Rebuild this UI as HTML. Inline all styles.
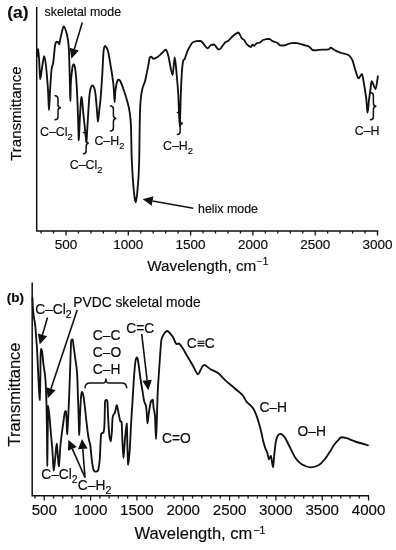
<!DOCTYPE html>
<html><head><meta charset="utf-8"><title>IR spectra</title>
<style>
html,body{margin:0;padding:0;background:#fff;}
body{width:396px;height:550px;overflow:hidden;}
svg{display:block;}
text{font-family:"Liberation Sans",Arial,Helvetica,sans-serif;fill:#0a0a0a;stroke:#0a0a0a;stroke-width:0.16px;}
.an{font-size:12.4px;}
.bn{font-size:13.8px;}
.tk{font-size:13.5px;text-anchor:middle;}
.tkb{font-size:15.1px;text-anchor:middle;}
.tib{font-size:16.55px;}
.lbb{font-size:13.5px;font-weight:bold;}
.ti{font-size:15.3px;}
.lb{font-size:16px;font-weight:bold;}
.c{fill:none;stroke:#111;stroke-width:1.85;stroke-linejoin:round;stroke-linecap:round;}
.ax{fill:none;stroke:#111;stroke-width:1.5;}
.br{fill:none;stroke:#111;stroke-width:1.5;stroke-linecap:round;}
</style></head><body>
<svg width="396" height="550" viewBox="0 0 396 550">
<rect width="396" height="550" fill="#fff"/>

<path class="c" d="M37.00 56.00 C37.17 54.87 37.67 49.20 38.00 49.20 C38.33 49.53 38.62 53.03 39.00 58.00 C39.38 62.97 39.80 77.33 40.30 79.00 C40.80 79.00 41.35 71.80 42.00 68.00 C42.65 64.20 43.53 56.53 44.20 56.20 C44.87 56.20 45.37 60.37 46.00 66.00 C46.63 71.63 47.50 82.63 48.00 90.00 C48.50 97.37 48.65 110.20 49.00 110.20 C49.35 110.20 49.68 96.70 50.10 90.00 C50.52 83.30 50.97 74.67 51.50 70.00 C52.03 65.33 52.72 66.00 53.30 62.00 C53.88 58.00 54.47 49.38 55.00 46.00 C55.53 42.62 56.00 42.37 56.50 41.70 C57.00 41.70 57.55 41.70 58.00 42.00 C58.45 42.42 58.70 44.20 59.20 44.20 C59.70 43.20 60.27 38.98 61.00 36.00 C61.73 33.02 62.77 27.13 63.60 26.30 C64.43 26.30 65.27 28.72 66.00 31.00 C66.73 33.28 67.50 36.50 68.00 40.00 C68.50 43.50 68.68 44.67 69.00 52.00 C69.32 59.33 69.68 75.87 69.90 84.00 C70.12 92.13 70.13 100.80 70.30 100.80 C70.47 100.47 70.65 86.72 70.90 82.00 C71.15 77.28 71.52 75.08 71.80 72.50 C72.08 69.92 72.28 67.88 72.60 66.50 C72.92 65.12 73.33 64.20 73.70 64.20 C74.07 64.20 74.48 65.20 74.80 66.50 C75.12 67.80 75.35 69.75 75.60 72.00 C75.85 74.25 76.07 76.83 76.30 80.00 C76.53 83.17 76.78 86.83 77.00 91.00 C77.22 95.17 77.40 99.83 77.60 105.00 C77.80 110.17 78.00 116.13 78.20 122.00 C78.40 127.87 78.60 139.20 78.80 140.20 C79.00 140.20 79.17 132.70 79.40 128.00 C79.63 123.30 79.93 116.67 80.20 112.00 C80.47 107.33 80.78 102.50 81.00 100.00 C81.22 97.50 81.32 97.00 81.50 97.00 C81.68 97.00 81.85 97.83 82.10 100.00 C82.35 102.17 82.68 106.67 83.00 110.00 C83.32 113.33 83.63 116.50 84.00 120.00 C84.37 123.50 84.80 127.28 85.20 131.00 C85.60 134.72 86.07 142.30 86.40 142.30 C86.73 142.13 86.93 134.22 87.20 130.00 C87.47 125.78 87.73 121.33 88.00 117.00 C88.27 112.67 88.53 107.83 88.80 104.00 C89.07 100.17 89.27 96.72 89.60 94.00 C89.93 91.28 90.32 89.12 90.80 87.70 C91.28 86.28 91.93 85.50 92.50 85.50 C93.07 85.50 93.70 86.28 94.20 87.70 C94.70 89.12 95.10 90.95 95.50 94.00 C95.90 97.05 96.18 101.40 96.60 106.00 C97.02 110.60 97.55 120.93 98.00 121.60 C98.45 121.60 98.88 113.67 99.30 110.00 C99.72 106.33 100.13 103.60 100.50 99.60 C100.87 95.60 101.18 90.53 101.50 86.00 C101.82 81.47 102.15 76.73 102.40 72.40 C102.65 68.07 102.82 63.40 103.00 60.00 C103.18 56.60 103.30 54.08 103.50 52.00 C103.70 49.92 103.93 48.53 104.20 47.50 C104.47 46.47 104.77 45.88 105.10 45.80 C105.43 45.80 105.75 46.22 106.20 47.00 C106.65 47.78 107.30 48.83 107.80 50.50 C108.30 52.17 108.75 54.58 109.20 57.00 C109.65 59.42 110.03 62.17 110.50 65.00 C110.97 67.83 111.53 70.95 112.00 74.00 C112.47 77.05 112.97 80.30 113.30 83.30 C113.63 86.30 113.78 88.88 114.00 92.00 C114.22 95.12 114.37 102.00 114.60 102.00 C114.83 101.83 115.07 94.08 115.40 91.00 C115.73 87.92 116.23 85.28 116.60 83.50 C116.97 81.72 117.25 80.95 117.60 80.30 C117.95 79.65 118.22 79.60 118.70 79.60 C119.18 79.80 119.73 79.98 120.50 81.50 C121.27 83.02 122.43 86.28 123.30 88.70 C124.17 91.12 124.95 93.57 125.70 96.00 C126.45 98.43 127.20 100.97 127.80 103.30 C128.40 105.63 128.87 107.58 129.30 110.00 C129.73 112.42 130.12 114.97 130.40 117.80 C130.68 120.63 130.85 123.30 131.00 127.00 C131.15 130.70 131.20 135.33 131.30 140.00 C131.40 144.67 131.47 150.67 131.60 155.00 C131.73 159.33 131.92 162.33 132.10 166.00 C132.28 169.67 132.48 173.67 132.70 177.00 C132.92 180.33 133.15 183.10 133.40 186.00 C133.65 188.90 133.95 192.15 134.20 194.40 C134.45 196.65 134.67 198.17 134.90 199.50 C135.13 200.83 135.37 202.40 135.60 202.40 C135.83 202.40 136.05 200.83 136.30 199.50 C136.55 198.17 136.85 196.65 137.10 194.40 C137.35 192.15 137.57 188.90 137.80 186.00 C138.03 183.10 138.30 180.33 138.50 177.00 C138.70 173.67 138.87 169.67 139.00 166.00 C139.13 162.33 139.22 159.33 139.30 155.00 C139.38 150.67 139.43 144.83 139.50 140.00 C139.57 135.17 139.63 130.00 139.70 126.00 C139.77 122.00 139.80 119.50 139.90 116.00 C140.00 112.50 140.10 108.33 140.30 105.00 C140.50 101.67 140.75 98.72 141.10 96.00 C141.45 93.28 141.95 90.62 142.40 88.70 C142.85 86.78 143.35 85.78 143.80 84.50 C144.25 83.22 144.58 83.02 145.10 81.00 C145.62 78.98 146.30 75.35 146.90 72.40 C147.50 69.45 148.25 65.70 148.70 63.30 C149.15 60.90 149.15 59.12 149.60 58.00 C150.05 56.88 150.78 56.60 151.40 56.60 C152.02 56.72 152.28 58.63 153.30 58.70 C154.32 58.70 156.10 57.90 157.50 57.00 C158.90 56.10 160.32 54.52 161.70 53.30 C163.08 52.08 164.70 49.70 165.80 49.70 C166.90 50.12 167.73 54.08 168.30 55.80 C168.87 57.52 168.50 56.80 169.20 60.00 C169.90 63.20 171.58 75.00 172.50 75.00 C173.42 74.58 174.00 57.50 174.70 57.50 C175.40 57.50 176.10 68.75 176.70 75.00 C177.30 81.25 177.80 86.38 178.30 95.00 C178.80 103.62 179.28 126.70 179.70 126.70 C180.12 126.70 180.47 103.62 180.80 95.00 C181.13 86.38 181.33 80.55 181.70 75.00 C182.07 69.45 182.45 64.48 183.00 61.70 C183.55 58.92 184.25 60.12 185.00 58.30 C185.75 56.48 186.53 53.02 187.50 50.80 C188.47 48.58 189.83 46.47 190.80 45.00 C191.77 43.53 191.77 42.70 193.30 42.00 C194.83 41.30 198.47 40.80 200.00 40.80 C201.53 40.88 201.25 41.25 202.50 42.50 C203.75 43.75 206.12 47.88 207.50 48.30 C208.88 48.30 209.68 45.63 210.80 45.00 C211.92 44.50 212.95 44.50 214.20 44.50 C215.45 45.25 217.20 48.87 218.30 49.50 C219.40 49.50 219.68 49.47 220.80 48.30 C221.92 47.13 223.75 43.75 225.00 42.50 C226.25 41.25 226.92 41.92 228.30 40.80 C229.68 39.68 231.63 37.18 233.30 35.80 C234.97 34.42 236.90 32.50 238.30 32.50 C239.70 32.92 240.72 37.05 241.70 38.30 C242.68 39.55 243.37 39.02 244.20 40.00 C245.03 40.98 245.60 43.03 246.70 44.20 C247.80 45.37 249.83 46.92 250.80 47.00 C251.77 47.00 251.93 44.90 252.50 44.70 C253.07 44.70 253.50 45.80 254.20 45.80 C254.90 45.57 255.73 43.85 256.70 43.30 C257.67 42.75 258.90 43.05 260.00 42.50 C261.10 41.95 261.77 40.62 263.30 40.00 C264.83 39.38 267.67 38.80 269.20 38.80 C270.73 39.00 271.25 40.58 272.50 41.20 C273.75 41.82 275.45 41.82 276.70 42.50 C277.95 43.18 278.75 44.80 280.00 45.30 C281.25 45.50 282.53 45.50 284.20 45.50 C285.87 45.17 288.20 43.75 290.00 43.30 C291.80 42.85 293.33 42.80 295.00 42.80 C296.67 42.88 298.33 43.38 300.00 43.80 C301.67 44.22 303.47 44.82 305.00 45.30 C306.53 45.78 307.95 45.92 309.20 46.70 C310.45 47.48 311.37 49.40 312.50 50.00 C313.63 50.30 314.97 50.30 316.00 50.30 C317.03 50.27 316.62 49.97 318.70 49.80 C320.78 49.63 326.50 49.67 328.50 49.30 C330.50 48.93 329.45 47.60 330.70 47.60 C331.95 47.87 334.20 50.00 336.00 50.90 C337.80 51.80 339.33 52.25 341.50 53.00 C343.67 53.75 347.18 54.20 349.00 55.40 C350.82 56.60 351.42 58.02 352.40 60.20 C353.38 62.38 353.90 65.47 354.90 68.50 C355.90 71.53 357.23 77.47 358.40 78.40 C359.57 78.40 360.97 74.10 361.90 74.10 C362.83 75.03 363.28 79.98 364.00 84.00 C364.72 88.02 365.60 93.43 366.20 98.20 C366.80 102.97 367.13 112.30 367.60 112.60 C368.07 112.60 368.53 103.77 369.00 100.00 C369.47 96.23 369.93 93.13 370.40 90.00 C370.87 86.87 370.97 81.37 371.80 81.20 C372.63 81.20 374.38 89.00 375.40 89.00 C376.42 88.18 377.48 78.42 377.90 76.30"/>
<path class="ax" d="M36.7 7 V231 H378.3"/>
<path class="ax" style="stroke-width:1.3" d="M41.08 231 v2.6 M53.54 231 v2.6 M66.00 231 v4.6 M78.46 231 v2.6 M90.92 231 v2.6 M103.38 231 v2.6 M115.84 231 v2.6 M128.30 231 v4.6 M140.76 231 v2.6 M153.22 231 v2.6 M165.68 231 v2.6 M178.14 231 v2.6 M190.60 231 v4.6 M203.06 231 v2.6 M215.52 231 v2.6 M227.98 231 v2.6 M240.44 231 v2.6 M252.90 231 v4.6 M265.36 231 v2.6 M277.82 231 v2.6 M290.28 231 v2.6 M302.74 231 v2.6 M315.20 231 v4.6 M327.66 231 v2.6 M340.12 231 v2.6 M352.58 231 v2.6 M365.04 231 v2.6 M377.50 231 v4.6"/>
<text class="tk" x="66.00" y="249.2">500</text>
<text class="tk" x="128.30" y="249.2">1000</text>
<text class="tk" x="190.60" y="249.2">1500</text>
<text class="tk" x="252.90" y="249.2">2000</text>
<text class="tk" x="315.20" y="249.2">2500</text>
<text class="tk" x="377.50" y="249.2">3000</text>
<text class="ti" x="147.2" y="271.3">Wavelength, cm<tspan dx="0.5" dy="-5.9" font-size="10">−1</tspan></text>
<text class="ti" style="font-size:15px" transform="translate(20.6 160.8) rotate(-90)">Transmittance</text>
<text class="lb" style="font-size:17.4px" x="7.2" y="18.1">(a)</text>
<text class="an" x="44.6" y="16.2">skeletal mode</text>
<text class="an" x="198" y="212.6">helix mode</text>
<text class="an" x="40" y="136">C–Cl<tspan dy="4" font-size="76%">2</tspan></text>
<text class="an" x="69.7" y="169.3">C–Cl<tspan dy="4" font-size="76%">2</tspan></text>
<text class="an" x="94.4" y="145">C–H<tspan dy="4" font-size="76%">2</tspan></text>
<text class="an" x="163" y="150">C–H<tspan dy="4" font-size="76%">2</tspan></text>
<text class="an" x="354.7" y="135.2">C–H</text>
<path class="br" d="M55 95.7 Q58.0 95.7 58.0 98.7 L58.0 104.75 Q58.0 107.75 61 107.75 Q58.0 107.75 58.0 110.75 L58.0 116.8 Q58.0 119.8 55 119.8"/>
<path class="br" d="M83.4 132.5 Q86.15 132.5 86.15 135.5 L86.15 140.15 Q86.15 143.15 88.9 143.15 Q86.15 143.15 86.15 146.15 L86.15 150.8 Q86.15 153.8 83.4 153.8"/>
<path class="br" d="M110.4 106 Q113.4 106 113.4 109 L113.4 115.5 Q113.4 118.5 116.4 118.5 Q113.4 118.5 113.4 121.5 L113.4 128 Q113.4 131 110.4 131"/>
<path class="br" d="M177.4 112.5 Q180.15 112.5 180.15 115.5 L180.15 120.45 Q180.15 123.45 182.9 123.45 Q180.15 123.45 180.15 126.45 L180.15 131.4 Q180.15 134.4 177.4 134.4"/>
<path class="br" d="M370.4 92.8 Q373.4 92.8 373.4 95.8 L373.4 103.25 Q373.4 106.25 376.4 106.25 Q373.4 106.25 373.4 109.25 L373.4 116.7 Q373.4 119.7 370.4 119.7"/>
<line x1="82.30" y1="22.60" x2="74.29" y2="49.13" stroke="#111" stroke-width="1.6"/><polygon points="71.40,58.70 69.70,47.74 78.89,50.51" fill="#111"/>
<line x1="193.30" y1="208.30" x2="152.55" y2="201.05" stroke="#111" stroke-width="1.6"/><polygon points="142.70,199.30 153.39,196.33 151.70,205.78" fill="#111"/>
<path class="c" d="M32.50 298.00 C32.57 299.67 32.65 304.67 32.90 308.00 C33.15 311.33 33.62 315.17 34.00 318.00 C34.38 320.83 34.83 321.67 35.20 325.00 C35.57 328.33 35.88 333.83 36.20 338.00 C36.52 342.17 36.78 344.33 37.10 350.00 C37.42 355.67 37.80 365.67 38.10 372.00 C38.40 378.33 38.63 383.33 38.90 388.00 C39.17 392.67 39.47 400.00 39.70 400.00 C39.93 398.67 40.15 387.33 40.30 380.00 C40.45 372.67 40.43 361.20 40.60 356.00 C40.77 350.80 41.02 349.30 41.30 348.80 C41.58 348.80 41.97 350.63 42.30 353.00 C42.63 355.37 42.85 359.33 43.30 363.00 C43.75 366.67 44.58 371.33 45.00 375.00 C45.42 378.67 45.55 380.00 45.80 385.00 C46.05 390.00 46.30 396.67 46.50 405.00 C46.70 413.33 46.87 424.78 47.00 435.00 C47.13 445.22 47.18 466.30 47.30 466.30 C47.42 466.30 47.53 445.05 47.70 435.00 C47.87 424.95 47.78 406.50 48.30 406.00 C48.82 406.00 50.10 424.33 50.80 432.00 C51.50 439.67 52.00 445.57 52.50 452.00 C53.00 458.43 53.30 470.10 53.80 470.60 C54.30 470.60 55.02 459.48 55.50 455.00 C55.98 450.52 56.28 443.70 56.70 443.70 C57.12 444.20 57.63 454.23 58.00 458.00 C58.37 461.77 58.48 466.30 58.90 466.30 C59.32 464.13 59.98 450.72 60.50 445.00 C61.02 439.28 61.48 436.08 62.00 432.00 C62.52 427.92 63.17 423.58 63.60 420.50 C64.03 417.42 64.28 415.08 64.60 413.50 C64.92 411.92 65.23 411.00 65.50 411.00 C65.77 411.00 66.00 411.67 66.20 413.50 C66.40 415.33 66.55 418.53 66.70 422.00 C66.85 425.47 66.85 434.30 67.10 434.30 C67.35 433.58 67.85 424.25 68.20 417.70 C68.55 411.15 68.88 402.95 69.20 395.00 C69.52 387.05 69.87 376.67 70.10 370.00 C70.33 363.33 70.47 359.00 70.60 355.00 C70.73 351.00 70.82 348.25 70.90 346.00 C70.98 343.75 70.98 342.53 71.10 341.50 C71.22 340.47 71.42 340.13 71.60 339.80 C71.78 339.50 72.02 339.50 72.20 339.50 C72.38 339.53 72.55 339.58 72.70 340.00 C72.85 340.42 72.95 340.92 73.10 342.00 C73.25 343.08 73.32 344.33 73.60 346.50 C73.88 348.67 74.37 351.92 74.80 355.00 C75.23 358.08 75.83 362.17 76.20 365.00 C76.57 367.83 76.78 369.17 77.00 372.00 C77.22 374.83 77.35 378.17 77.50 382.00 C77.65 385.83 77.73 389.83 77.90 395.00 C78.07 400.17 78.27 406.33 78.50 413.00 C78.73 419.67 79.07 434.17 79.30 435.00 C79.53 435.00 79.70 423.00 79.90 418.00 C80.10 413.00 80.32 408.42 80.50 405.00 C80.68 401.58 80.83 399.45 81.00 397.50 C81.17 395.55 81.32 394.22 81.50 393.30 C81.68 392.38 81.88 392.00 82.10 392.00 C82.32 392.00 82.55 392.47 82.80 393.30 C83.05 394.13 83.33 395.38 83.60 397.00 C83.87 398.62 84.15 401.00 84.40 403.00 C84.65 405.00 84.75 405.83 85.10 409.00 C85.45 412.17 86.05 418.00 86.50 422.00 C86.95 426.00 87.38 430.00 87.80 433.00 C88.22 436.00 88.57 437.83 89.00 440.00 C89.43 442.17 89.93 442.67 90.40 446.00 C90.87 449.33 91.33 456.20 91.80 460.00 C92.27 463.80 92.75 466.93 93.20 468.80 C93.65 470.67 94.03 470.73 94.50 471.20 C94.97 471.60 95.50 471.60 96.00 471.60 C96.50 471.57 97.08 471.43 97.50 471.00 C97.92 470.57 98.13 470.83 98.50 469.00 C98.87 467.17 99.38 463.83 99.70 460.00 C100.02 456.17 100.18 450.17 100.40 446.00 C100.62 441.83 100.80 437.13 101.00 435.00 C101.20 433.20 101.20 433.60 101.60 433.20 C102.00 432.80 102.93 433.20 103.40 432.60 C103.87 431.40 104.17 429.77 104.40 426.00 C104.63 422.23 104.70 413.92 104.80 410.00 C104.90 406.08 104.88 404.12 105.00 402.50 C105.12 400.88 105.30 400.73 105.50 400.30 C105.70 399.90 105.95 399.90 106.20 399.90 C106.45 399.90 106.78 399.90 107.00 400.30 C107.22 400.73 107.32 400.30 107.50 402.50 C107.68 405.25 107.80 411.38 108.10 416.80 C108.40 422.22 108.87 430.93 109.30 435.00 C109.73 439.07 110.27 441.20 110.70 441.20 C111.13 440.53 111.57 435.03 111.90 431.00 C112.23 426.97 112.18 420.10 112.70 417.00 C113.22 413.90 114.32 414.37 115.00 412.40 C115.68 410.43 116.18 405.20 116.80 405.20 C117.42 405.47 118.13 411.37 118.70 414.00 C119.27 416.63 119.72 419.67 120.20 421.00 C120.68 422.00 121.25 421.00 121.60 422.00 C121.95 424.93 121.98 432.57 122.30 438.60 C122.62 444.63 123.05 458.20 123.50 458.20 C123.95 458.20 124.47 444.42 125.00 438.60 C125.53 432.78 126.30 423.30 126.70 423.30 C127.10 424.53 127.15 439.08 127.40 446.00 C127.65 452.92 127.83 463.80 128.20 464.80 C128.57 464.80 129.12 458.80 129.60 452.00 C130.08 445.20 130.73 430.67 131.10 424.00 C131.47 417.33 131.57 415.67 131.80 412.00 C132.03 408.33 132.32 404.83 132.50 402.00 C132.68 399.17 132.73 397.83 132.90 395.00 C133.07 392.17 133.27 388.67 133.50 385.00 C133.73 381.33 134.00 376.75 134.30 373.00 C134.60 369.25 135.00 364.90 135.30 362.50 C135.60 360.10 135.83 359.43 136.10 358.60 C136.37 357.77 136.65 357.50 136.90 357.50 C137.15 357.50 137.35 357.68 137.60 358.60 C137.85 359.52 138.07 360.72 138.40 363.00 C138.73 365.28 139.17 369.13 139.60 372.30 C140.03 375.47 140.53 378.97 141.00 382.00 C141.47 385.03 141.87 387.27 142.40 390.50 C142.93 393.73 143.62 398.90 144.20 401.40 C144.78 403.90 145.47 403.40 145.90 405.50 C146.33 407.60 146.53 411.02 146.80 414.00 C147.07 416.98 147.18 423.40 147.50 423.40 C147.82 423.40 148.20 417.40 148.70 414.00 C149.20 410.60 149.98 405.28 150.50 403.00 C151.02 400.72 151.42 400.87 151.80 400.30 C152.18 399.73 152.50 399.60 152.80 399.60 C153.10 400.88 153.32 405.88 153.60 408.00 C153.88 410.12 154.25 410.68 154.50 412.30 C154.75 413.92 154.85 413.22 155.10 417.70 C155.35 422.18 155.70 439.20 156.00 439.20 C156.30 439.20 156.60 425.82 156.90 417.70 C157.20 409.58 157.35 399.62 157.80 390.50 C158.25 381.38 159.15 369.75 159.60 363.00 C160.05 356.25 160.20 353.83 160.50 350.00 C160.80 346.17 160.93 342.50 161.40 340.00 C161.87 337.50 162.32 336.50 163.30 335.00 C164.28 333.50 165.77 331.00 167.30 331.00 C168.83 331.25 171.22 334.72 172.50 336.50 C173.78 338.28 174.35 340.45 175.00 341.70 C175.65 342.95 175.73 343.70 176.40 344.00 C177.07 344.00 177.85 343.50 179.00 343.50 C180.15 344.33 182.25 347.45 183.30 349.00 C184.35 350.55 183.72 350.05 185.30 352.80 C186.88 355.55 190.70 361.92 192.80 365.50 C194.90 369.08 196.55 373.68 197.90 374.30 C199.25 374.30 199.85 370.75 200.90 369.20 C201.95 367.65 202.60 365.00 204.20 365.00 C205.80 365.00 208.20 367.87 210.50 369.20 C212.80 370.53 215.47 371.10 218.00 373.00 C220.53 374.90 222.78 377.93 225.70 380.60 C228.62 383.27 232.67 386.55 235.50 389.00 C238.33 391.45 240.87 393.20 242.70 395.30 C244.53 397.40 244.82 399.50 246.50 401.60 C248.18 403.70 251.18 405.70 252.80 407.90 C254.42 410.10 255.15 412.15 256.20 414.80 C257.25 417.45 258.23 420.82 259.10 423.80 C259.97 426.78 260.75 429.95 261.40 432.70 C262.05 435.45 262.37 437.77 263.00 440.30 C263.63 442.83 264.47 445.75 265.20 447.90 C265.93 450.05 266.78 451.32 267.40 453.20 C268.02 455.08 268.32 458.73 268.90 459.20 C269.48 459.20 270.22 456.00 270.90 456.00 C271.58 457.35 272.45 467.30 273.00 467.30 C273.55 467.22 273.73 459.75 274.20 455.50 C274.67 451.25 275.17 445.18 275.80 441.80 C276.43 438.42 277.13 436.53 278.00 435.20 C278.87 433.87 279.90 433.80 281.00 433.80 C282.10 434.10 283.22 434.97 284.60 437.00 C285.98 439.03 287.48 442.50 289.30 446.00 C291.12 449.50 293.45 454.95 295.50 458.00 C297.55 461.05 299.08 462.75 301.60 464.30 C304.12 465.85 307.70 467.18 310.60 467.30 C313.50 467.30 316.60 466.38 319.00 465.00 C321.40 463.62 323.17 461.23 325.00 459.00 C326.83 456.77 328.52 453.88 330.00 451.60 C331.48 449.32 332.62 447.12 333.90 445.30 C335.18 443.48 336.43 442.05 337.70 440.70 C338.97 439.35 340.03 437.62 341.50 437.20 C342.97 437.20 343.98 437.40 346.50 438.20 C349.02 439.00 353.02 440.82 356.60 442.00 C360.18 443.18 366.10 444.75 368.00 445.30"/>
<path class="ax" d="M32.2 282.5 V495.8 H369"/>
<path class="ax" style="stroke-width:1.3" d="M34.98 495.8 v2.8 M44.25 495.8 v4.8 M53.52 495.8 v2.8 M62.78 495.8 v2.8 M72.05 495.8 v2.8 M81.31 495.8 v2.8 M90.58 495.8 v4.8 M99.85 495.8 v2.8 M109.11 495.8 v2.8 M118.38 495.8 v2.8 M127.64 495.8 v2.8 M136.91 495.8 v4.8 M146.18 495.8 v2.8 M155.44 495.8 v2.8 M164.71 495.8 v2.8 M173.97 495.8 v2.8 M183.24 495.8 v4.8 M192.51 495.8 v2.8 M201.77 495.8 v2.8 M211.04 495.8 v2.8 M220.30 495.8 v2.8 M229.57 495.8 v4.8 M238.84 495.8 v2.8 M248.10 495.8 v2.8 M257.37 495.8 v2.8 M266.63 495.8 v2.8 M275.90 495.8 v4.8 M285.17 495.8 v2.8 M294.43 495.8 v2.8 M303.70 495.8 v2.8 M312.96 495.8 v2.8 M322.23 495.8 v4.8 M331.50 495.8 v2.8 M340.76 495.8 v2.8 M350.03 495.8 v2.8 M359.29 495.8 v2.8 M368.56 495.8 v4.8"/>
<text class="tkb" x="44.25" y="514.8">500</text>
<text class="tkb" x="90.58" y="514.8">1000</text>
<text class="tkb" x="136.91" y="514.8">1500</text>
<text class="tkb" x="183.24" y="514.8">2000</text>
<text class="tkb" x="229.57" y="514.8">2500</text>
<text class="tkb" x="275.90" y="514.8">3000</text>
<text class="tkb" x="322.23" y="514.8">3500</text>
<text class="tkb" x="368.56" y="514.8">4000</text>
<text class="tib" x="134.4" y="539.3">Wavelength, cm<tspan dx="1.2" dy="-5.5" font-size="10.4">−1</tspan></text>
<text class="tib" style="font-size:16.5px" transform="translate(20.2 446.4) rotate(-90)">Transmittance</text>
<text class="lbb" x="6.8" y="302.4">(b)</text>
<text class="bn" x="73.3" y="306.5">PVDC skeletal mode</text>
<text class="bn" x="35.2" y="314.3">C–Cl<tspan dy="4" font-size="76%">2</tspan></text>
<text class="bn" x="41.2" y="479.3">C–Cl<tspan dy="4" font-size="76%">2</tspan></text>
<text class="bn" x="77.8" y="489.8">C–H<tspan dy="4" font-size="76%">2</tspan></text>
<text class="bn" x="92.8" y="340.2">C–C</text>
<text class="bn" x="92.8" y="357">C–O</text>
<text class="bn" x="92.8" y="373.6">C–H</text>
<text class="bn" x="126.2" y="333">C=C</text>
<text class="bn" x="186.8" y="348.4">C≡C</text>
<text class="bn" x="162.1" y="443.2">C=O</text>
<text class="bn" x="259.4" y="412.1">C–H</text>
<text class="bn" x="297.5" y="435.8">O–H</text>
<path class="br" d="M85 387.8 Q85.3 383.1 90 383.1 L102.85 383.1 Q105.85 383.1 105.85 378.40000000000003 Q105.85 383.1 108.85 383.1 L121.7 383.1 Q126.4 383.1 126.7 387.8"/>
<line x1="47.50" y1="317.50" x2="42.48" y2="334.89" stroke="#111" stroke-width="1.6"/><polygon points="39.70,344.50 37.86,333.56 47.09,336.23" fill="#111"/>
<line x1="77.20" y1="310.00" x2="50.96" y2="388.81" stroke="#111" stroke-width="1.6"/><polygon points="47.80,398.30 46.40,387.30 55.51,390.33" fill="#111"/>
<line x1="85.00" y1="477.50" x2="72.34" y2="448.85" stroke="#111" stroke-width="1.6"/><polygon points="68.30,439.70 76.73,446.91 67.95,450.79" fill="#111"/>
<line x1="85.00" y1="477.50" x2="82.78" y2="448.97" stroke="#111" stroke-width="1.6"/><polygon points="82.00,439.00 87.56,448.60 77.99,449.34" fill="#111"/>
<line x1="141.70" y1="334.00" x2="147.13" y2="380.27" stroke="#111" stroke-width="1.6"/><polygon points="148.30,390.20 142.37,380.83 151.90,379.71" fill="#111"/>
</svg></body></html>
